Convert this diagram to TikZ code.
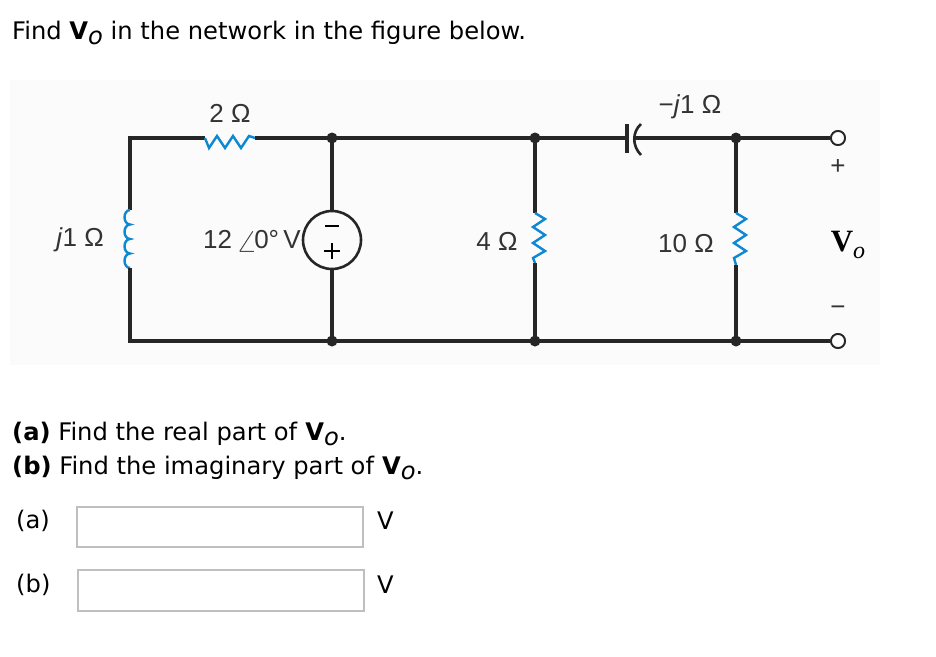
\documentclass[tikz,border=0pt]{standalone}
\usepackage{fontspec}
\setmainfont{DejaVu Sans}
\newfontfamily\circfont{Liberation Sans}
\begin{document}
\begin{tikzpicture}[x=1pt,y=-1pt,
  wire/.style={line width=3.4pt,black!85},
  comp/.style={line width=2.4pt,cyan!70!blue},
  dot/.style={circle,fill=black!85,inner sep=0pt,minimum size=11pt},
  term/.style={circle,draw=black!85,line width=1.8pt,fill=white,inner sep=0pt,minimum size=14pt},
  lbl/.style={font=\circfont\fontsize{26}{26}\selectfont,text=black!80,inner sep=1pt},
  qtext/.style={anchor=west,font=\fontsize{24.2}{24.2}\selectfont,inner sep=0pt},
  ansbox/.style={draw=black!25,line width=1.2pt}]
\useasboundingbox (0,0) rectangle (936,656);
\fill[black!1.5] (10,80) rectangle (880,365);
\node[qtext] (q) at (12,33) {Find \textbf{V}\raisebox{-0.35ex}{\textit{o}} in the network in the figure below.};
% coordinates
\coordinate (tl) at (130,138); \coordinate (bl) at (130,341);
\coordinate (t1) at (332,138); \coordinate (b1) at (332,341);
\coordinate (t2) at (535,138); \coordinate (b2) at (535,341);
\coordinate (t3) at (736,138); \coordinate (b3) at (736,341);
\node[term] (op) at (838,138) {};
\node[term] (on) at (838,341) {};
% left branch
\draw[wire] (130,210) -- (tl) -- (205,138);
\draw[comp] (205,138) -- (209,148) -- (217,136) -- (225,148) -- (233,136) -- (241,148) -- (249,136) -- (255,138);
\draw[wire] (255,138) -- (t1) -- (t2) -- (627,138);
\draw[comp] (130,210) arc (-90:-270:5.5 and 7.25) arc (-90:-270:5.5 and 7.25) arc (-90:-270:5.5 and 7.25) arc (-90:-270:5.5 and 7.25);
\draw[wire] (130,268) -- (bl) -- (b1) -- (b2) -- (b3) -- (on);
% source
\node[circle,draw=black!85,line width=2.6pt,minimum size=58pt,inner sep=0pt] (src) at (332,240) {};
\draw[wire] (t1) -- (src.north); \draw[wire] (src.south) -- (b1);
\draw[line width=1.8pt] (325,226) -- (339,226);
\draw[line width=1.8pt] (324,251) -- (340,251) (332,243) -- (332,259);
\node[lbl,anchor=east] (srcl) at (302,241) {12 \tikz[baseline]{\draw[line width=1pt,black!70](0,-3pt)--(14pt,-3pt)(0,-3pt)--(13pt,17pt);}0°\,V};
% 4 ohm
\draw[wire] (t2) -- (535,213);
\draw[comp] (535,213) -- (545,219) -- (533,227) -- (545,235) -- (533,243) -- (545,251) -- (533,258) -- (535,263);
\draw[wire] (535,263) -- (b2);
% capacitor
\draw[wire] (627,124) -- (627,153);
\draw[line width=2.6pt,black!85] (641,124) .. controls (632,132) and (632,146) .. (641,155);
\draw[wire] (635,138) -- (t3) -- (op);
% 10 ohm
\draw[wire] (t3) -- (736,213);
\draw[comp] (736,213) -- (746,219) -- (734,227) -- (746,235) -- (734,243) -- (746,251) -- (734,258) -- (736,265);
\draw[wire] (736,265) -- (b3);
% dots
\foreach \p in {t1,b1,t2,b2,t3,b3} \node[dot] at (\p) {};
\node[term] at (op) {}; \node[term] at (on) {};
% labels
\node[lbl] (l2) at (230,113) {2 Ω};
\node[lbl] (lj) at (80,240) {\textit{j}1 Ω};
\node[lbl] (l4) at (497,241) {4 Ω};
\node[lbl] (lc) at (690,107) {−\textit{j}1 Ω};
\node[lbl] (l10) at (686,244) {10 Ω};
\node[lbl] (pl) at (838,167) {+};
\node[lbl] (mi) at (838,311) {−};
\node[inner sep=0pt] (vo) at (848,245) {\fontspec{Liberation Serif}\fontsize{31}{31}\selectfont\bfseries V\raisebox{-0.5ex}{\mdseries\itshape\fontsize{24}{24}\selectfont o}};
% questions
\node[qtext] (qa) at (12,434) {\textbf{(a)} Find the real part of \textbf{V}\raisebox{-0.35ex}{\textit{o}}.};
\node[qtext] (qb) at (12,468) {\textbf{(b)} Find the imaginary part of \textbf{V}\raisebox{-0.35ex}{\textit{o}}.};
\node[qtext] (la) at (16,521) {(a)};
\node[qtext] (lb) at (16,585) {(b)};
\draw[ansbox] (77,507) rectangle (363,547);
\draw[ansbox] (78,570) rectangle (364,611);
\node[qtext] (va) at (377,521) {V};
\node[qtext] (vb) at (377,585) {V};
\end{tikzpicture}
\end{document}
